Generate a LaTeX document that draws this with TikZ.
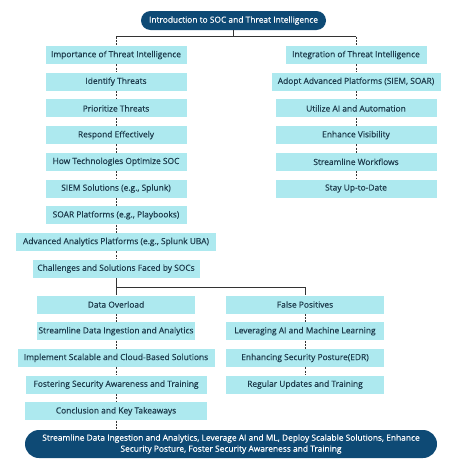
\documentclass[tikz,border=0pt]{standalone}
\usepackage{fontspec}
\setmainfont{Open Sans}[FakeBold=0.4]
\usetikzlibrary{positioning}

\definecolor{boxcyan}{HTML}{ADE9EF}
\definecolor{navy}{HTML}{0E4A75}
\definecolor{ink}{HTML}{1D3B4C}

\begin{document}
\begin{tikzpicture}[
            x = 1pt, y = 1pt, % one unit per pixel
            node distance = 26.7pt, % centre to centre of boxes
            font = \fontsize{8.4}{11}\selectfont,
            semithick % line style
        ]

        \tikzstyle{box}=[
            fill = boxcyan,
            text = ink,
            minimum height = 18pt,
            inner sep = 1pt
        ]
        \tikzstyle{pill}=[
            fill = navy,
            text = white,
            inner sep = 1pt
        ]
        \tikzstyle{link}=[draw = black!80, dash pattern = on 2pt off 1.3pt]
        \tikzstyle{tree}=[draw = black!80]

        \useasboundingbox (0,0) rectangle (474,-474);

        \node[pill, minimum width = 185pt, minimum height = 19pt, rounded corners = 9.5pt] (intro) at (233.5,-20.5) {Introduction to SOC and Threat Intelligence};

        % left branch
        \node[box, minimum width = 141pt] (imp) at (116,-55) {Importance of Threat Intelligence};
        \node[box, minimum width = 141pt] (ident) [below of=imp] {Identify Threats};
        \node[box, minimum width = 141pt] (prio) [below of=ident] {Prioritize Threats};
        \node[box, minimum width = 141pt] (resp) [below of=prio] {Respond Effectively};
        \node[box, minimum width = 141pt] (tech) [below of=resp] {How Technologies Optimize SOC};
        \node[box, minimum width = 141pt] (siem) [below of=tech] {SIEM Solutions (e.g., Splunk)};
        \node[box, minimum width = 141pt] (soar) [below of=siem] {SOAR Platforms (e.g., Playbooks)};
        \node[box, minimum width = 200pt] (uba) [below of=soar] {Advanced Analytics Platforms (e.g., Splunk UBA)};
        \node[box, minimum width = 167pt] (chal) [below of=uba] {Challenges and Solutions Faced by SOCs};

        % right branch
        \node[box, minimum width = 141pt] (integ) at (356,-55) {Integration of Threat Intelligence};
        \node[box, minimum width = 169pt] (adopt) [below of=integ] {Adopt Advanced Platforms (SIEM, SOAR)};
        \node[box, minimum width = 161pt] (util) [below of=adopt] {Utilize AI and Automation};
        \node[box, minimum width = 161pt] (vis) [below of=util] {Enhance Visibility};
        \node[box, minimum width = 161pt] (flow) [below of=vis] {Streamline Workflows};
        \node[box, minimum width = 161pt] (upd) [below of=flow] {Stay Up-to-Date};

        % challenges
        \node[box, minimum width = 158pt] (over) at (116,-304.5) {Data Overload};
        \node[box, minimum width = 157pt] (ingest) [below of=over] {Streamline Data Ingestion and Analytics};
        \node[box, minimum width = 197pt] (cloud) [below of=ingest] {Implement Scalable and Cloud-Based Solutions};
        \node[box, minimum width = 181pt] (aware) [below of=cloud] {Fostering Security Awareness and Training};
        \node[box, minimum width = 182pt] (key) [below of=aware] {Conclusion and Key Takeaways};

        \node[box, minimum width = 158pt] (fpos) at (305,-304.5) {False Positives};
        \node[box, minimum width = 158pt] (ml) [below of=fpos] {Leveraging AI and Machine Learning};
        \node[box, minimum width = 158pt] (edr) [below of=ml] {Enhancing Security Posture(EDR)};
        \node[box, minimum width = 158pt] (train) [below of=edr] {Regular Updates and Training};

        \node[pill, minimum width = 412pt, minimum height = 28pt, rounded corners = 14pt, align = center] (sum) at (231,-444) {Streamline Data Ingestion and Analytics, Leverage AI and ML, Deploy Scalable Solutions, Enhance\\Security Posture, Foster Security Awareness and Training};

        % connectors
        \coordinate (tl) at (imp.north |- 0,-36.5);
        \coordinate (tr) at (integ.north |- 0,-36.5);
        \coordinate (bl) at (chal.south |- 0,-287);

        \path[tree] (intro) edge (intro |- tl) (tl) edge (tr);
        \path[link] (tl) edge (imp) (tr) edge (integ);

        \path[link] (imp) edge (ident) (ident) edge (prio) (prio) edge (resp)
            (resp) edge (tech) (tech) edge (siem) (siem) edge (soar)
            (soar) edge (uba) (uba) edge (chal);
        \path[link] (integ) edge (adopt) (adopt) edge (util) (util) edge (vis)
            (vis) edge (flow) (flow) edge (upd);

        \draw[tree] (chal) -- (over);
        \draw[tree] (bl) -| (fpos);

        \path[link] (over) edge (ingest) (ingest) edge (cloud) (cloud) edge (aware)
            (aware) edge (key) (key) edge (sum.north -| key);
        \path[link] (fpos) edge (ml) (ml) edge (edr) (edr) edge (train);
    \end{tikzpicture}
\end{document}
